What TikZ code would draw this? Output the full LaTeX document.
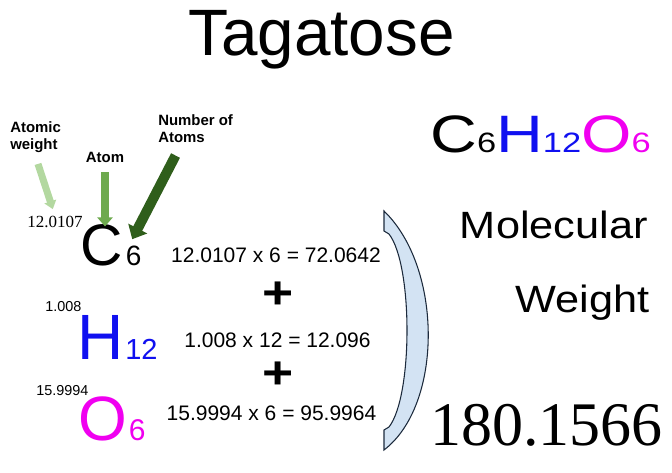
\documentclass[tikz,border=0pt]{standalone}
\usepackage{fontspec}
\setmainfont{Liberation Sans}
\newfontfamily\timesfont{Liberation Serif}
\usepackage{graphicx}
\usepackage{tikz}
\usetikzlibrary{arrows.meta, positioning}
\usepackage{xcolor}
\definecolor{wtgreen}{HTML}{B3D8A0}
\definecolor{atgreen}{HTML}{6EAA4E}
\definecolor{numgreen}{HTML}{2F5E1B}
\definecolor{hblue}{HTML}{1010F0}
\definecolor{omag}{HTML}{F000F0}
\definecolor{brfill}{HTML}{D3E3F3}
\definecolor{brline}{HTML}{1C2A3C}
\newcommand{\fsz}[1]{\fontsize{#1}{#1}\selectfont}

\begin{document}
\begin{tikzpicture}[x=0.75pt, y=-0.75pt,
    every node/.style={inner sep=0pt},
    lbl/.style={font=\bfseries\fontsize{11.2}{12.75}\selectfont, align=left},
    small/.style={font=\fsz{10.8}, anchor=base west},
    atom/.style={anchor=base west},
    eqn/.style={font=\fsz{15.75}, anchor=base},
    plus/.style={font=\bfseries\fsz{40}},
    wtarr/.style={wtgreen, line width=5.25pt, -{Triangle[width=9pt, length=6pt]}},
    atarr/.style={atgreen, line width=6pt, -{Triangle[width=11.25pt, length=6.75pt]}},
    numarr/.style={numgreen, line width=7.5pt, -{Triangle[width=15.5pt, length=9pt]}}]
    \useasboundingbox (0,0) rectangle (672,472);

    \node[anchor=base] (title) at (321.5,55) {\fsz{49.2}Tagatose};

    % labels
    \node[lbl, anchor=north west] (lblW) at (10,121) {Atomic\\weight};
    \node[lbl, anchor=base] (lblAtom) at (105,162) {Atom};
    \node[lbl, anchor=north west] (lblN) at (158,114) {Number of\\Atoms};

    % C
    \node[anchor=base west, font=\timesfont\fsz{12.75}] (wtC) at (27,227) {12.0107};
    \node[atom] (atC) at (80,265) {\fsz{44}C};
    \node[atom, xshift=2pt] (nC) at (atC.base east) {\fsz{21}6};

    % H
    \node[small] (wtH) at (45,311) {1.008};
    \node[atom] (atH) at (77,359) {\fsz{48}\color{hblue}H};
    \node[atom, xshift=1pt] (nH) at (atH.base east) {\fsz{21.75}\color{hblue}12};

    % O
    \node[small] (wtO) at (36,395) {15.9994};
    \node[atom] (atO) at (78,440) {\fsz{47}\color{omag}O};
    \node[atom, xshift=1pt] (nO) at (atO.base east) {\fsz{22.5}\color{omag}6};

    % pointers
    \draw[wtarr, shorten <=9pt, shorten >=5pt] ([xshift=-1pt]lblW.south) -- (wtC.north);
    \draw[atarr, shorten <=7.5pt, shorten >=-2pt] (lblAtom.south) -- (lblAtom.south |- atC.north);
    \draw[numarr, shorten <=11pt] ([xshift=-10pt]lblN.south) -- ([xshift=5pt, yshift=4.5pt]nC.north west);

    % sums
    \node[eqn] (eqC) at (276,262) {12.0107 x 6 = 72.0642};
    \node[plus] (p1) at (278,295) {\scalebox{1}[0.85]{+}};
    \node[eqn] (eqH) at (277.5,347) {1.008 x 12 = 12.096};
    \node[plus] (p2) at (278,375) {\scalebox{1}[0.85]{+}};
    \node[eqn] (eqO) at (271.5,420) {15.9994 x 6 = 95.9964};

    % bracket
    \draw[brline, fill=brfill, line width=0.8pt] (384,211) -- (384,231)
        .. controls (386,233) .. (389,234)
        .. controls (413,265) and (413,396) .. (389,427)
        .. controls (386,428) .. (384,430) -- (384,450)
        .. controls (443,405) and (443,268) .. cycle;

    % result
    \node[anchor=base west] (formula) at (430,152) {\scalebox{1.23}[1]{\fsz{39.5}C\fsz{21}6\color{hblue}\fsz{39.5}H\fsz{21}12\color{omag}\fsz{39.5}O\fsz{21}6}};
    \node[anchor=base east] (mol) at (648,238) {\scalebox{1.14}[1]{\fsz{28.5}Molecular}};
    \node[anchor=base east] (wgt) at (650,312) {\scalebox{1.14}[1]{\fsz{28.5}Weight}};
    \node[anchor=base] (total) at (546.5,445) {\timesfont\fsz{46.5}180.1566};
\end{tikzpicture}
\end{document}
